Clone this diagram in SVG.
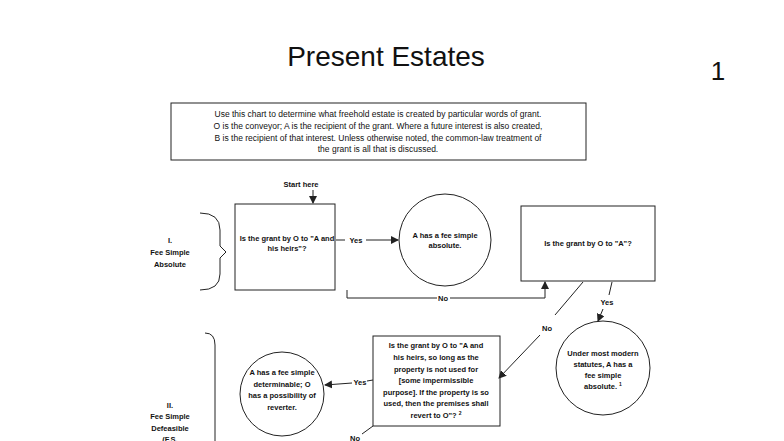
<svg xmlns="http://www.w3.org/2000/svg" width="784" height="441" viewBox="0 0 784 441">
<style>
text{font-family:"Liberation Sans",Arial,sans-serif;fill:#111}
.s{font-size:7.5px;font-weight:bold;text-anchor:middle}
.n{font-size:8.5px;text-anchor:middle}
.b{fill:#fff;stroke:#222;stroke-width:1}
.l{fill:none;stroke:#222;stroke-width:1}
</style>
<defs><marker id="a" markerWidth="8" markerHeight="8" refX="7" refY="4" orient="auto" markerUnits="userSpaceOnUse"><path d="M0,0L8,4L0,8z" fill="#222"/></marker></defs>
<rect width="784" height="441" fill="#fff"/>
<text x="386" y="66" font-size="28" text-anchor="middle">Present Estates</text>
<text x="718" y="80" font-size="26" text-anchor="middle">1</text>
<g id="intro"><rect class="b" x="171" y="103" width="415" height="57"/>
<text class="n" x="378" y="117">Use this chart to determine what freehold estate is created by particular words of grant.</text>
<text class="n" x="378" y="129">O is the conveyor; A is the recipient of the grant. Where a future interest is also created,</text>
<text class="n" x="378" y="141">B is the recipient of that interest. Unless otherwise noted, the common-law treatment of</text>
<text class="n" x="378" y="152">the grant is all that is discussed.</text></g>
<g id="labels">
<text class="s" x="301" y="187">Start here</text>
<path class="l" d="M200,213 Q220,213 220,230 L220,246 L226,252 L220,258 L220,274 Q220,290 200,290"/>
<text class="s" x="170" y="243">I.</text><text class="s" x="170" y="255">Fee Simple</text><text class="s" x="170" y="267">Absolute</text>
<path class="l" d="M205,333 Q215,333 215,345 L215,441"/>
<text class="s" x="170" y="408">II.</text><text class="s" x="170" y="419">Fee Simple</text><text class="s" x="170" y="431">Defeasible</text><text class="s" x="170" y="442">(F.S.</text>
</g>
<g id="q1"><rect class="b" x="235" y="204" width="100" height="86"/>
<text class="s" x="287" y="241">Is the grant by O to "A and</text><text class="s" x="287" y="251">his heirs"?</text></g>
<g id="fsa"><circle class="b" cx="445" cy="240" r="46"/>
<text class="s" x="445" y="238">A has a fee simple</text><text class="s" x="445" y="248">absolute.</text></g>
<g id="q2"><rect class="b" x="521" y="206" width="134" height="75"/>
<text class="s" x="588" y="246">Is the grant by O to "A"?</text></g>
<g id="fsa2"><circle class="b" cx="603" cy="368" r="47"/>
<text class="s" x="603" y="356">Under most modern</text><text class="s" x="603" y="367">statutes, A has a</text><text class="s" x="603" y="378">fee simple</text><text class="s" x="603" y="389">absolute. <tspan font-size="5" dy="-3">1</tspan></text></g>
<g id="q3"><rect class="b" x="373" y="336" width="127" height="90"/>
<text class="s" x="436" y="348">Is the grant by O to "A and</text><text class="s" x="436" y="360">his heirs, so long as the</text><text class="s" x="436" y="372">property is not used for</text><text class="s" x="436" y="383">[some impermissible</text><text class="s" x="436" y="395">purpose]. If the property is so</text><text class="s" x="436" y="406">used, then the premises shall</text><text class="s" x="436" y="418">revert to O"? <tspan font-size="5" dy="-3">2</tspan></text></g>
<g id="fsd"><circle class="b" cx="282" cy="394" r="42"/>
<text class="s" x="282" y="375">A has a fee simple</text><text class="s" x="282" y="387">determinable; O</text><text class="s" x="282" y="398">has a possibility of</text><text class="s" x="282" y="410">reverter.</text></g>
<g id="connectors">
<path class="l" d="M313,190 L313,203" marker-end="url(#a)"/>
<path class="l" d="M336,240 L345,240"/><path class="l" d="M366,240 L398,240" marker-end="url(#a)"/>
<text class="s" x="356" y="243">Yes</text>
<path class="l" d="M347,290 L347,298 L437,298"/><path class="l" d="M450,298 L545,298 L545,282" marker-end="url(#a)"/>
<text class="s" x="443" y="301">No</text>
<path class="l" d="M583,282 L555,315"/><path class="l" d="M540,335 L499,378" marker-end="url(#a)"/>
<text class="s" x="547" y="331">No</text>
<path class="l" d="M612,282 L609,295"/><path class="l" d="M603,309 L598,321" marker-end="url(#a)"/>
<text class="s" x="607" y="305">Yes</text>
<path class="l" d="M373,380 L367,381"/><path class="l" d="M352,383 L325,385" marker-end="url(#a)"/>
<text class="s" x="360" y="385">Yes</text>
<path class="l" d="M373,426 L362,434"/>
<text class="s" x="355" y="441">No</text>
</g>
</svg>
